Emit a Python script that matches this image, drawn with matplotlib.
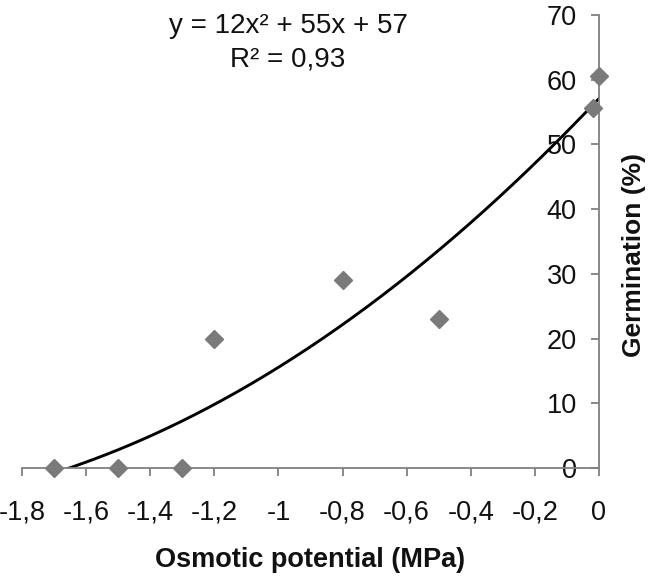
import numpy as np
import matplotlib
matplotlib.use("Agg")
import matplotlib.pyplot as plt

plt.rcParams['font.family'] = ['Liberation Sans', 'DejaVu Sans']

# Data
potential = [-1.7, -1.5, -1.3, -1.2, -0.8, -0.5, -0.02, 0.0]
germination = [0, 0, 0, 20, 29, 23, 55.6, 60.5]
x_ticks = [-1.8, -1.6, -1.4, -1.2, -1.0, -0.8, -0.6, -0.4, -0.2, 0.0]
x_tick_labels = ["-1,8", "-1,6", "-1,4", "-1,2", "-1", "-0,8", "-0,6", "-0,4", "-0,2", "0"]
y_ticks = [0, 10, 20, 30, 40, 50, 60, 70]
equation_text = "y = 12x² + 55x + 57"
r2_text = "R² = 0,93"

fig = plt.figure(figsize=(6.5, 5.77), dpi=100)
ax = fig.add_axes([22/650, 1-468/577, (599-22)/650, (468-15)/577])

coef = np.polyfit(potential, germination, 2)
xs = np.linspace(min(potential), max(potential), 300)
ax.plot(xs, np.polyval(coef, xs), color='black', lw=2.1, zorder=2)

ax.plot(potential, germination, linestyle='none', marker='D', markersize=8.8,
        color='#7a7a7a', markeredgecolor='#7a7a7a', zorder=3, clip_on=False)

ax.set_xlim(-1.8, 0)
ax.set_ylim(0, 70)

for s in ['right', 'top']:
    ax.spines[s].set_visible(False)
ax.spines['left'].set_position(('data', 0))
for s in ['left', 'bottom']:
    ax.spines[s].set_color('#808080')
    ax.spines[s].set_linewidth(1.3)

ax.set_xticks(x_ticks)
ax.set_xticklabels(x_tick_labels)
ax.set_yticks(y_ticks)
ax.tick_params(axis='both', direction='out', length=6, width=1.3, color='#808080',
               labelsize=19.5, labelcolor='#111111')
ax.tick_params(axis='x', pad=17)
ax.tick_params(axis='y', pad=10)

ax.set_xlabel("Osmotic potential (MPa)", fontsize=19.5, fontweight='bold', color='#111111')
ax.xaxis.set_label_coords(0.5, -0.174)
ax.yaxis.set_label_position('right')
ax.set_ylabel("Germination (%)", fontsize=19, fontweight='bold', color='#111111')
ax.yaxis.set_label_coords(1.04, 0.47)

fig.text(288/650, 1-33/577, equation_text, ha='center', va='baseline',
         fontsize=20, color='#111111')
fig.text(288/650, 1-66/577, r2_text, ha='center', va='baseline',
         fontsize=20, color='#111111')

fig.savefig("out.png", dpi=100)
